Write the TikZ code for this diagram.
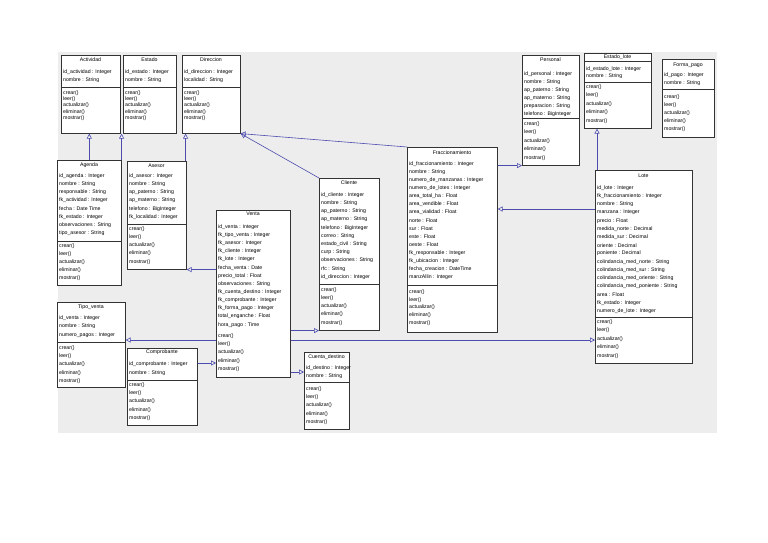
\documentclass[tikz,border=0pt]{standalone}
\usepackage{fontspec}
\setmainfont{Liberation Sans}
\usetikzlibrary{shadows,arrows.meta}
\tikzset{
  box/.style={draw=black!80, line width=0.6pt, fill=white, inner sep=0pt, anchor=north west,
    drop shadow={shadow xshift=0.8pt, shadow yshift=-0.8pt, fill=black!55, opacity=1}},
  txt/.style={anchor=west, inner sep=0pt, font=\fontsize{5.2}{6}\selectfont},
  ttl/.style={anchor=center, inner sep=0pt, font=\fontsize{5.2}{6}\selectfont},
  sepline/.style={draw=black!80, line width=0.5pt},
  gen/.style={draw=blue!55!black!70, line width=0.6pt, -{Triangle[open, length=5pt, width=5pt]}},
}
\newcommand\clsbox[8]{% name x1 y1 x2 y2 title titleY sepY
  \node[box, minimum width={(#4-#2)*1pt}, minimum height={(#5-#3)*1pt}] (#1) at (#2,#3) {};
  \node[ttl] (#1-t) at ({(#2+#4)/2},#7) {#6};
  \draw[sepline] (#2,#8) -- (#4,#8);
}
\newcommand\clsrows[4]{% x1 startY step list
  \foreach \t [count=\i from 0] in {#4} \node[txt] at ({#1+2},{#2+\i*#3}) {\t};
}
\newcommand\clsmeths[3]{\clsrows{#1}{#2}{#3}{crear(),leer(),actualizar(),eliminar(),mostrar()}}
\begin{document}
\begin{tikzpicture}[x=1pt,y=-1pt]
\useasboundingbox (0,0) rectangle (768,543);
\fill[black!7] (58,52) rectangle (717,433);

% Actividad
\clsbox{act}{61}{55}{120}{133}{Actividad}{60}{87}
\clsrows{61}{72}{8.5}{id\_actividad : Integer,nombre : String}
\clsmeths{61}{93}{6.3}
% Estado
\clsbox{est}{123}{55}{176}{133}{Estado}{60}{87}
\clsrows{123}{72}{8.5}{id\_estado : Integer,nombre : String}
\clsmeths{123}{93}{6.3}
% Direccion
\clsbox{dir}{182}{55}{240}{133}{Direccion}{60}{87}
\clsrows{182}{72}{8.5}{id\_direccion : Integer,localidad : String}
\clsmeths{182}{93}{6.3}
% Agenda
\clsbox{age}{57}{160}{121}{285}{Agenda}{165}{241}
\clsrows{57}{176}{8.2}{id\_agenda : Integer,nombre : String,responsable : String,fk\_actividad : Integer,fecha : Date Time,fk\_estado : Integer,observaciones : String,tipo\_asesor : String}
\clsmeths{57}{246}{8.1}
% Asesor
\clsbox{ase}{127}{161}{186}{269}{Asesor}{166}{224}
\clsrows{127}{176}{8.2}{id\_asesor : Integer,nombre : String,ap\_paterno : String,ap\_materno : String,telefono : BigInteger,fk\_localidad : Integer}
\clsmeths{127}{229}{8.2}
% Venta
\node[box, minimum width=74pt, minimum height=167pt] (ven) at (216,210) {};
\node[ttl] at (253,214) {Venta};
\clsrows{216}{227}{8.15}{id\_venta : Integer,fk\_tipo\_venta : Integer,fk\_asesor : Integer,fk\_cliente : Integer,fk\_lote : Integer,fecha\_venta : Date,precio\_total : Float,observaciones : String,fk\_cuenta\_destino : Integer,fk\_comprobante : Integer,fk\_forma\_pago : Integer,total\_enganche : Float,hora\_pago : Time}
\clsmeths{216}{336}{8.3}
% Cliente
\clsbox{cli}{319}{178}{379}{330}{Cliente}{183}{284}
\clsrows{319}{195}{8.2}{id\_cliente : Integer,nombre : String,ap\_paterno : String,ap\_materno : String,telefono : BigInteger,correo : String,estado\_civil : String,curp : String,observaciones : String,rfc : String,id\_direccion : Integer}
\clsmeths{319}{290}{8.2}
% Fraccionamiento
\clsbox{fra}{407}{147}{497}{332}{Fraccionamiento}{153}{285}
\clsrows{407}{164}{8.1}{id\_fraccionamiento : Integer,nombre : String,numero\_de\_manzanas : Integer,numero\_de\_lotes : Integer,area\_total\_ha : Float,area\_vendible : Float,area\_vialidad : Float,norte : Float,sur : Float,este : Float,oeste : Float,fk\_responsable : Integer,fk\_ubicacion : Integer,fecha\_creacion : DateTime,manzAllin : Integer}
\clsmeths{407}{292}{7.8}
% Personal
\clsbox{per}{522}{55}{579}{165}{Personal}{60}{118}
\clsrows{522}{74}{8}{id\_personal : Integer,nombre : String,ap\_paterno : String,ap\_materno : String,preparacion : String,telefono : BigInteger}
\clsmeths{522}{124}{8.5}
% Estado_lote
\clsbox{esl}{584}{53}{651}{128}{Estado\_lote}{57}{82}
\draw[sepline] (584,61) -- (651,61);
\clsrows{584}{69}{7}{id\_estado\_lote : Integer,nombre : String}
\clsmeths{584}{87}{8.5}
% Forma_pago
\clsbox{fpa}{662}{59}{714}{137}{Forma\_pago}{65}{89}
\clsrows{662}{75}{8}{id\_pago : Integer,nombre : String}
\clsmeths{662}{97}{8}
% Lote
\clsbox{lot}{595}{170}{692}{363}{Lote}{176}{317}
\clsrows{595}{188}{8.2}{id\_lote : Integer,fk\_fraccionamiento : Integer,nombre : String,manzana : Integer,precio : Float,medida\_norte : Decimal,medida\_sur : Decimal,oriente : Decimal,poniente : Decimal,colindancia\_med\_norte : String,colindancia\_med\_sur : String,colindancia\_med\_oriente : String,colindancia\_med\_poniente : String,area : Float,fk\_estado : Integer,numero\_de\_lote : Integer}
\clsmeths{595}{322}{8.5}
% Tipo_venta
\clsbox{tip}{57}{302}{125}{387}{Tipo\_venta}{307}{342}
\clsrows{57}{318}{8.5}{id\_venta : Integer,nombre : String,numero\_pagos : Integer}
\clsmeths{57}{348}{8.3}
% Comprobante
\clsbox{com}{127}{348}{197}{425}{Comprobante}{352}{380}
\clsrows{127}{364}{9}{id\_comprobante : Integer,nombre : String}
\clsmeths{127}{385}{8.3}
% Cuenta_destino
\clsbox{cue}{304}{352}{349}{429}{Cuenta\_destino}{357}{382}
\clsrows{304}{368}{8}{id\_destino : Integer,nombre : String}
\clsmeths{304}{389}{8.3}

% connectors
\draw[gen] (age.north) -- (age.north |- act.south);
\draw[gen] (age.north east) -- (age.north east |- est.south);
\draw[gen] (ase.north east) ++(-1,0) coordinate (a1) (a1) -- (a1 |- dir.south);
\draw[gen] (fra.north west) -- (dir.south east);
\draw[gen] (cli.north west) -- (dir.south east);
\draw[gen] (fra.east |- per.south) -- (per.south west);
\draw[gen] (lot.west |- 0,209) coordinate (l1) (l1) -- (l1 -| fra.east);
\draw[gen] (lot.north west) ++(2,0) coordinate (l2) (l2) -- (l2 |- esl.south);
\draw[gen] (ven.west |- ase.south) -- (ase.south east);
\draw[gen] (ven.east |- cli.south) -- (cli.south west);
\draw[gen] (ven.west |- 0,340) -- (tip.east |- 0,340);
\draw[gen] (ven.east |- 0,340) -- (lot.west |- 0,340);
\draw[gen] (com.east |- 0,363) -- (ven.west |- 0,363);
\draw[gen] (ven.east |- 0,372) -- (cue.west |- 0,372);
\end{tikzpicture}
\end{document}
